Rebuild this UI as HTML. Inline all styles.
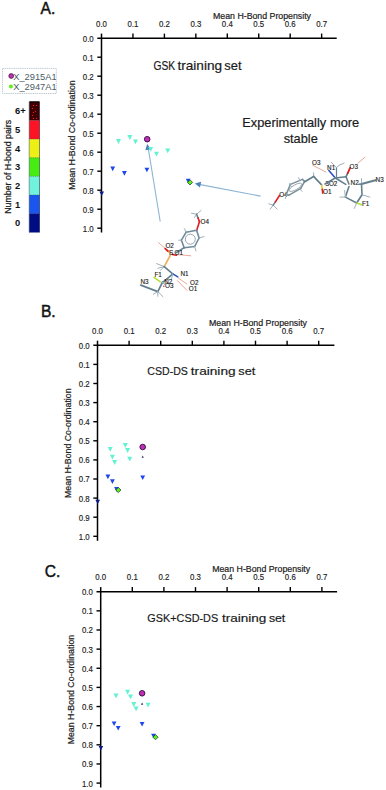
<!DOCTYPE html>
<html><head><meta charset="utf-8"><style>
html,body{margin:0;padding:0;background:#fff;}
svg{display:block;}
text{font-family:"Liberation Sans", sans-serif;}
</style></head><body>
<svg width="386" height="790" viewBox="0 0 386 790">
<rect width="386" height="790" fill="#fff"/>
<line x1="97.3" y1="38.2" x2="336.7" y2="38.2" stroke="#000" stroke-width="1.5"/>
<line x1="101.5" y1="33.6" x2="101.5" y2="232.5" stroke="#000" stroke-width="1.5"/>
<line x1="132.95" y1="33.6" x2="132.95" y2="38.2" stroke="#000" stroke-width="1.4"/>
<line x1="164.40" y1="33.6" x2="164.40" y2="38.2" stroke="#000" stroke-width="1.4"/>
<line x1="195.85" y1="33.6" x2="195.85" y2="38.2" stroke="#000" stroke-width="1.4"/>
<line x1="227.30" y1="33.6" x2="227.30" y2="38.2" stroke="#000" stroke-width="1.4"/>
<line x1="258.75" y1="33.6" x2="258.75" y2="38.2" stroke="#000" stroke-width="1.4"/>
<line x1="290.20" y1="33.6" x2="290.20" y2="38.2" stroke="#000" stroke-width="1.4"/>
<line x1="321.65" y1="33.6" x2="321.65" y2="38.2" stroke="#000" stroke-width="1.4"/>
<line x1="97.3" y1="57.20" x2="101.5" y2="57.20" stroke="#000" stroke-width="1.4"/>
<line x1="97.3" y1="76.20" x2="101.5" y2="76.20" stroke="#000" stroke-width="1.4"/>
<line x1="97.3" y1="95.20" x2="101.5" y2="95.20" stroke="#000" stroke-width="1.4"/>
<line x1="97.3" y1="114.20" x2="101.5" y2="114.20" stroke="#000" stroke-width="1.4"/>
<line x1="97.3" y1="133.20" x2="101.5" y2="133.20" stroke="#000" stroke-width="1.4"/>
<line x1="97.3" y1="152.20" x2="101.5" y2="152.20" stroke="#000" stroke-width="1.4"/>
<line x1="97.3" y1="171.20" x2="101.5" y2="171.20" stroke="#000" stroke-width="1.4"/>
<line x1="97.3" y1="190.20" x2="101.5" y2="190.20" stroke="#000" stroke-width="1.4"/>
<line x1="97.3" y1="209.20" x2="101.5" y2="209.20" stroke="#000" stroke-width="1.4"/>
<line x1="97.3" y1="228.20" x2="101.5" y2="228.20" stroke="#000" stroke-width="1.4"/>
<text x="101.50" y="26.60" text-anchor="middle" font-size="8.2" fill="#1c1c1c" stroke="#1c1c1c" stroke-width="0.15" textLength="10.9" lengthAdjust="spacingAndGlyphs">0.0</text>
<text x="132.95" y="26.60" text-anchor="middle" font-size="8.2" fill="#1c1c1c" stroke="#1c1c1c" stroke-width="0.15" textLength="10.9" lengthAdjust="spacingAndGlyphs">0.1</text>
<text x="164.40" y="26.60" text-anchor="middle" font-size="8.2" fill="#1c1c1c" stroke="#1c1c1c" stroke-width="0.15" textLength="10.9" lengthAdjust="spacingAndGlyphs">0.2</text>
<text x="195.85" y="26.60" text-anchor="middle" font-size="8.2" fill="#1c1c1c" stroke="#1c1c1c" stroke-width="0.15" textLength="10.9" lengthAdjust="spacingAndGlyphs">0.3</text>
<text x="227.30" y="26.60" text-anchor="middle" font-size="8.2" fill="#1c1c1c" stroke="#1c1c1c" stroke-width="0.15" textLength="10.9" lengthAdjust="spacingAndGlyphs">0.4</text>
<text x="258.75" y="26.60" text-anchor="middle" font-size="8.2" fill="#1c1c1c" stroke="#1c1c1c" stroke-width="0.15" textLength="10.9" lengthAdjust="spacingAndGlyphs">0.5</text>
<text x="290.20" y="26.60" text-anchor="middle" font-size="8.2" fill="#1c1c1c" stroke="#1c1c1c" stroke-width="0.15" textLength="10.9" lengthAdjust="spacingAndGlyphs">0.6</text>
<text x="321.65" y="26.60" text-anchor="middle" font-size="8.2" fill="#1c1c1c" stroke="#1c1c1c" stroke-width="0.15" textLength="10.9" lengthAdjust="spacingAndGlyphs">0.7</text>
<text x="82.80" y="41.60" font-size="8.2" fill="#1c1c1c" stroke="#1c1c1c" stroke-width="0.15" textLength="10.9" lengthAdjust="spacingAndGlyphs">0.0</text>
<text x="82.80" y="60.60" font-size="8.2" fill="#1c1c1c" stroke="#1c1c1c" stroke-width="0.15" textLength="10.9" lengthAdjust="spacingAndGlyphs">0.1</text>
<text x="82.80" y="79.60" font-size="8.2" fill="#1c1c1c" stroke="#1c1c1c" stroke-width="0.15" textLength="10.9" lengthAdjust="spacingAndGlyphs">0.2</text>
<text x="82.80" y="98.60" font-size="8.2" fill="#1c1c1c" stroke="#1c1c1c" stroke-width="0.15" textLength="10.9" lengthAdjust="spacingAndGlyphs">0.3</text>
<text x="82.80" y="117.60" font-size="8.2" fill="#1c1c1c" stroke="#1c1c1c" stroke-width="0.15" textLength="10.9" lengthAdjust="spacingAndGlyphs">0.4</text>
<text x="82.80" y="136.60" font-size="8.2" fill="#1c1c1c" stroke="#1c1c1c" stroke-width="0.15" textLength="10.9" lengthAdjust="spacingAndGlyphs">0.5</text>
<text x="82.80" y="155.60" font-size="8.2" fill="#1c1c1c" stroke="#1c1c1c" stroke-width="0.15" textLength="10.9" lengthAdjust="spacingAndGlyphs">0.6</text>
<text x="82.80" y="174.60" font-size="8.2" fill="#1c1c1c" stroke="#1c1c1c" stroke-width="0.15" textLength="10.9" lengthAdjust="spacingAndGlyphs">0.7</text>
<text x="82.80" y="193.60" font-size="8.2" fill="#1c1c1c" stroke="#1c1c1c" stroke-width="0.15" textLength="10.9" lengthAdjust="spacingAndGlyphs">0.8</text>
<text x="82.80" y="212.60" font-size="8.2" fill="#1c1c1c" stroke="#1c1c1c" stroke-width="0.15" textLength="10.9" lengthAdjust="spacingAndGlyphs">0.9</text>
<text x="82.80" y="231.60" font-size="8.2" fill="#1c1c1c" stroke="#1c1c1c" stroke-width="0.15" textLength="10.9" lengthAdjust="spacingAndGlyphs">1.0</text>
<text x="213.00" y="18.90" font-size="8.7" fill="#1c1c1c" stroke="#1c1c1c" stroke-width="0.2" textLength="98" lengthAdjust="spacingAndGlyphs">Mean H-Bond Propensity</text>
<text transform="translate(74.90,135.10) rotate(-90)" text-anchor="middle" font-size="8.8" fill="#1c1c1c" stroke="#1c1c1c" stroke-width="0.2">Mean H-Bond Co-ordination</text>
<text x="40.5" y="13.5" font-size="15.6" fill="#111" stroke="#111" stroke-width="0.45">A.</text>
<line x1="93.3" y1="345.3" x2="334.4" y2="345.3" stroke="#000" stroke-width="1.5"/>
<line x1="97.5" y1="340.7" x2="97.5" y2="540.8" stroke="#000" stroke-width="1.5"/>
<line x1="129.10" y1="340.7" x2="129.10" y2="345.3" stroke="#000" stroke-width="1.4"/>
<line x1="160.70" y1="340.7" x2="160.70" y2="345.3" stroke="#000" stroke-width="1.4"/>
<line x1="192.30" y1="340.7" x2="192.30" y2="345.3" stroke="#000" stroke-width="1.4"/>
<line x1="223.90" y1="340.7" x2="223.90" y2="345.3" stroke="#000" stroke-width="1.4"/>
<line x1="255.50" y1="340.7" x2="255.50" y2="345.3" stroke="#000" stroke-width="1.4"/>
<line x1="287.10" y1="340.7" x2="287.10" y2="345.3" stroke="#000" stroke-width="1.4"/>
<line x1="318.70" y1="340.7" x2="318.70" y2="345.3" stroke="#000" stroke-width="1.4"/>
<line x1="93.3" y1="364.40" x2="97.5" y2="364.40" stroke="#000" stroke-width="1.4"/>
<line x1="93.3" y1="383.50" x2="97.5" y2="383.50" stroke="#000" stroke-width="1.4"/>
<line x1="93.3" y1="402.60" x2="97.5" y2="402.60" stroke="#000" stroke-width="1.4"/>
<line x1="93.3" y1="421.70" x2="97.5" y2="421.70" stroke="#000" stroke-width="1.4"/>
<line x1="93.3" y1="440.80" x2="97.5" y2="440.80" stroke="#000" stroke-width="1.4"/>
<line x1="93.3" y1="459.90" x2="97.5" y2="459.90" stroke="#000" stroke-width="1.4"/>
<line x1="93.3" y1="479.00" x2="97.5" y2="479.00" stroke="#000" stroke-width="1.4"/>
<line x1="93.3" y1="498.10" x2="97.5" y2="498.10" stroke="#000" stroke-width="1.4"/>
<line x1="93.3" y1="517.20" x2="97.5" y2="517.20" stroke="#000" stroke-width="1.4"/>
<line x1="93.3" y1="536.30" x2="97.5" y2="536.30" stroke="#000" stroke-width="1.4"/>
<text x="97.50" y="333.70" text-anchor="middle" font-size="8.2" fill="#1c1c1c" stroke="#1c1c1c" stroke-width="0.15" textLength="10.9" lengthAdjust="spacingAndGlyphs">0.0</text>
<text x="129.10" y="333.70" text-anchor="middle" font-size="8.2" fill="#1c1c1c" stroke="#1c1c1c" stroke-width="0.15" textLength="10.9" lengthAdjust="spacingAndGlyphs">0.1</text>
<text x="160.70" y="333.70" text-anchor="middle" font-size="8.2" fill="#1c1c1c" stroke="#1c1c1c" stroke-width="0.15" textLength="10.9" lengthAdjust="spacingAndGlyphs">0.2</text>
<text x="192.30" y="333.70" text-anchor="middle" font-size="8.2" fill="#1c1c1c" stroke="#1c1c1c" stroke-width="0.15" textLength="10.9" lengthAdjust="spacingAndGlyphs">0.3</text>
<text x="223.90" y="333.70" text-anchor="middle" font-size="8.2" fill="#1c1c1c" stroke="#1c1c1c" stroke-width="0.15" textLength="10.9" lengthAdjust="spacingAndGlyphs">0.4</text>
<text x="255.50" y="333.70" text-anchor="middle" font-size="8.2" fill="#1c1c1c" stroke="#1c1c1c" stroke-width="0.15" textLength="10.9" lengthAdjust="spacingAndGlyphs">0.5</text>
<text x="287.10" y="333.70" text-anchor="middle" font-size="8.2" fill="#1c1c1c" stroke="#1c1c1c" stroke-width="0.15" textLength="10.9" lengthAdjust="spacingAndGlyphs">0.6</text>
<text x="318.70" y="333.70" text-anchor="middle" font-size="8.2" fill="#1c1c1c" stroke="#1c1c1c" stroke-width="0.15" textLength="10.9" lengthAdjust="spacingAndGlyphs">0.7</text>
<text x="78.80" y="348.70" font-size="8.2" fill="#1c1c1c" stroke="#1c1c1c" stroke-width="0.15" textLength="10.9" lengthAdjust="spacingAndGlyphs">0.0</text>
<text x="78.80" y="367.80" font-size="8.2" fill="#1c1c1c" stroke="#1c1c1c" stroke-width="0.15" textLength="10.9" lengthAdjust="spacingAndGlyphs">0.1</text>
<text x="78.80" y="386.90" font-size="8.2" fill="#1c1c1c" stroke="#1c1c1c" stroke-width="0.15" textLength="10.9" lengthAdjust="spacingAndGlyphs">0.2</text>
<text x="78.80" y="406.00" font-size="8.2" fill="#1c1c1c" stroke="#1c1c1c" stroke-width="0.15" textLength="10.9" lengthAdjust="spacingAndGlyphs">0.3</text>
<text x="78.80" y="425.10" font-size="8.2" fill="#1c1c1c" stroke="#1c1c1c" stroke-width="0.15" textLength="10.9" lengthAdjust="spacingAndGlyphs">0.4</text>
<text x="78.80" y="444.20" font-size="8.2" fill="#1c1c1c" stroke="#1c1c1c" stroke-width="0.15" textLength="10.9" lengthAdjust="spacingAndGlyphs">0.5</text>
<text x="78.80" y="463.30" font-size="8.2" fill="#1c1c1c" stroke="#1c1c1c" stroke-width="0.15" textLength="10.9" lengthAdjust="spacingAndGlyphs">0.6</text>
<text x="78.80" y="482.40" font-size="8.2" fill="#1c1c1c" stroke="#1c1c1c" stroke-width="0.15" textLength="10.9" lengthAdjust="spacingAndGlyphs">0.7</text>
<text x="78.80" y="501.50" font-size="8.2" fill="#1c1c1c" stroke="#1c1c1c" stroke-width="0.15" textLength="10.9" lengthAdjust="spacingAndGlyphs">0.8</text>
<text x="78.80" y="520.60" font-size="8.2" fill="#1c1c1c" stroke="#1c1c1c" stroke-width="0.15" textLength="10.9" lengthAdjust="spacingAndGlyphs">0.9</text>
<text x="78.80" y="539.70" font-size="8.2" fill="#1c1c1c" stroke="#1c1c1c" stroke-width="0.15" textLength="10.9" lengthAdjust="spacingAndGlyphs">1.0</text>
<text x="209.00" y="326.00" font-size="8.7" fill="#1c1c1c" stroke="#1c1c1c" stroke-width="0.2" textLength="98" lengthAdjust="spacingAndGlyphs">Mean H-Bond Propensity</text>
<text transform="translate(71.40,443.20) rotate(-90)" text-anchor="middle" font-size="8.8" fill="#1c1c1c" stroke="#1c1c1c" stroke-width="0.2">Mean H-Bond Co-ordination</text>
<text x="40.9" y="316.9" font-size="15.6" fill="#111" stroke="#111" stroke-width="0.45">B.</text>
<line x1="96.5" y1="591.7" x2="337.1" y2="591.7" stroke="#000" stroke-width="1.5"/>
<line x1="100.7" y1="587.1" x2="100.7" y2="787.5" stroke="#000" stroke-width="1.5"/>
<line x1="132.30" y1="587.1" x2="132.30" y2="591.7" stroke="#000" stroke-width="1.4"/>
<line x1="163.90" y1="587.1" x2="163.90" y2="591.7" stroke="#000" stroke-width="1.4"/>
<line x1="195.50" y1="587.1" x2="195.50" y2="591.7" stroke="#000" stroke-width="1.4"/>
<line x1="227.10" y1="587.1" x2="227.10" y2="591.7" stroke="#000" stroke-width="1.4"/>
<line x1="258.70" y1="587.1" x2="258.70" y2="591.7" stroke="#000" stroke-width="1.4"/>
<line x1="290.30" y1="587.1" x2="290.30" y2="591.7" stroke="#000" stroke-width="1.4"/>
<line x1="321.90" y1="587.1" x2="321.90" y2="591.7" stroke="#000" stroke-width="1.4"/>
<line x1="96.5" y1="610.84" x2="100.7" y2="610.84" stroke="#000" stroke-width="1.4"/>
<line x1="96.5" y1="629.98" x2="100.7" y2="629.98" stroke="#000" stroke-width="1.4"/>
<line x1="96.5" y1="649.12" x2="100.7" y2="649.12" stroke="#000" stroke-width="1.4"/>
<line x1="96.5" y1="668.26" x2="100.7" y2="668.26" stroke="#000" stroke-width="1.4"/>
<line x1="96.5" y1="687.40" x2="100.7" y2="687.40" stroke="#000" stroke-width="1.4"/>
<line x1="96.5" y1="706.54" x2="100.7" y2="706.54" stroke="#000" stroke-width="1.4"/>
<line x1="96.5" y1="725.68" x2="100.7" y2="725.68" stroke="#000" stroke-width="1.4"/>
<line x1="96.5" y1="744.82" x2="100.7" y2="744.82" stroke="#000" stroke-width="1.4"/>
<line x1="96.5" y1="763.96" x2="100.7" y2="763.96" stroke="#000" stroke-width="1.4"/>
<line x1="96.5" y1="783.10" x2="100.7" y2="783.10" stroke="#000" stroke-width="1.4"/>
<text x="100.70" y="580.10" text-anchor="middle" font-size="8.2" fill="#1c1c1c" stroke="#1c1c1c" stroke-width="0.15" textLength="10.9" lengthAdjust="spacingAndGlyphs">0.0</text>
<text x="132.30" y="580.10" text-anchor="middle" font-size="8.2" fill="#1c1c1c" stroke="#1c1c1c" stroke-width="0.15" textLength="10.9" lengthAdjust="spacingAndGlyphs">0.1</text>
<text x="163.90" y="580.10" text-anchor="middle" font-size="8.2" fill="#1c1c1c" stroke="#1c1c1c" stroke-width="0.15" textLength="10.9" lengthAdjust="spacingAndGlyphs">0.2</text>
<text x="195.50" y="580.10" text-anchor="middle" font-size="8.2" fill="#1c1c1c" stroke="#1c1c1c" stroke-width="0.15" textLength="10.9" lengthAdjust="spacingAndGlyphs">0.3</text>
<text x="227.10" y="580.10" text-anchor="middle" font-size="8.2" fill="#1c1c1c" stroke="#1c1c1c" stroke-width="0.15" textLength="10.9" lengthAdjust="spacingAndGlyphs">0.4</text>
<text x="258.70" y="580.10" text-anchor="middle" font-size="8.2" fill="#1c1c1c" stroke="#1c1c1c" stroke-width="0.15" textLength="10.9" lengthAdjust="spacingAndGlyphs">0.5</text>
<text x="290.30" y="580.10" text-anchor="middle" font-size="8.2" fill="#1c1c1c" stroke="#1c1c1c" stroke-width="0.15" textLength="10.9" lengthAdjust="spacingAndGlyphs">0.6</text>
<text x="321.90" y="580.10" text-anchor="middle" font-size="8.2" fill="#1c1c1c" stroke="#1c1c1c" stroke-width="0.15" textLength="10.9" lengthAdjust="spacingAndGlyphs">0.7</text>
<text x="82.00" y="595.10" font-size="8.2" fill="#1c1c1c" stroke="#1c1c1c" stroke-width="0.15" textLength="10.9" lengthAdjust="spacingAndGlyphs">0.0</text>
<text x="82.00" y="614.24" font-size="8.2" fill="#1c1c1c" stroke="#1c1c1c" stroke-width="0.15" textLength="10.9" lengthAdjust="spacingAndGlyphs">0.1</text>
<text x="82.00" y="633.38" font-size="8.2" fill="#1c1c1c" stroke="#1c1c1c" stroke-width="0.15" textLength="10.9" lengthAdjust="spacingAndGlyphs">0.2</text>
<text x="82.00" y="652.52" font-size="8.2" fill="#1c1c1c" stroke="#1c1c1c" stroke-width="0.15" textLength="10.9" lengthAdjust="spacingAndGlyphs">0.3</text>
<text x="82.00" y="671.66" font-size="8.2" fill="#1c1c1c" stroke="#1c1c1c" stroke-width="0.15" textLength="10.9" lengthAdjust="spacingAndGlyphs">0.4</text>
<text x="82.00" y="690.80" font-size="8.2" fill="#1c1c1c" stroke="#1c1c1c" stroke-width="0.15" textLength="10.9" lengthAdjust="spacingAndGlyphs">0.5</text>
<text x="82.00" y="709.94" font-size="8.2" fill="#1c1c1c" stroke="#1c1c1c" stroke-width="0.15" textLength="10.9" lengthAdjust="spacingAndGlyphs">0.6</text>
<text x="82.00" y="729.08" font-size="8.2" fill="#1c1c1c" stroke="#1c1c1c" stroke-width="0.15" textLength="10.9" lengthAdjust="spacingAndGlyphs">0.7</text>
<text x="82.00" y="748.22" font-size="8.2" fill="#1c1c1c" stroke="#1c1c1c" stroke-width="0.15" textLength="10.9" lengthAdjust="spacingAndGlyphs">0.8</text>
<text x="82.00" y="767.36" font-size="8.2" fill="#1c1c1c" stroke="#1c1c1c" stroke-width="0.15" textLength="10.9" lengthAdjust="spacingAndGlyphs">0.9</text>
<text x="82.00" y="786.50" font-size="8.2" fill="#1c1c1c" stroke="#1c1c1c" stroke-width="0.15" textLength="10.9" lengthAdjust="spacingAndGlyphs">1.0</text>
<text x="212.20" y="572.40" font-size="8.7" fill="#1c1c1c" stroke="#1c1c1c" stroke-width="0.2" textLength="98" lengthAdjust="spacingAndGlyphs">Mean H-Bond Propensity</text>
<text transform="translate(73.90,689.60) rotate(-90)" text-anchor="middle" font-size="8.8" fill="#1c1c1c" stroke="#1c1c1c" stroke-width="0.2">Mean H-Bond Co-ordination</text>
<text x="44.8" y="576.6" font-size="15.6" fill="#111" stroke="#111" stroke-width="0.45">C.</text>
<rect x="2.5" y="68.4" width="53.8" height="25.1" fill="none" stroke="#c0ccd4" stroke-width="1" stroke-dasharray="1.5 0.7"/>
<svg x="3" y="68.5" width="53" height="25"><text x="10.2" y="11.2" font-size="9.3" fill="#4c5c68">X_2915A1</text><text x="10.2" y="21.1" font-size="9.3" fill="#4c5c68">X_2947A1</text></svg>
<circle cx="11.2" cy="76" r="2.4" fill="#c22cb6" stroke="#3a1030" stroke-width="0.7"/>
<circle cx="10.9" cy="86.5" r="2.0" fill="#5df01c"/>
<rect x="29" y="101.80" width="10.6" height="18.84" fill="#3c0004"/>
<text x="15.0" y="114.42" font-size="9.4" font-weight="bold" fill="#111">6+</text>
<rect x="29" y="120.44" width="10.6" height="18.84" fill="#fc1424"/>
<text x="15.0" y="133.06" font-size="9.4" font-weight="bold" fill="#111">5</text>
<rect x="29" y="139.09" width="10.6" height="18.84" fill="#ecf014"/>
<text x="15.0" y="151.71" font-size="9.4" font-weight="bold" fill="#111">4</text>
<rect x="29" y="157.73" width="10.6" height="18.84" fill="#46ec12"/>
<text x="15.0" y="170.35" font-size="9.4" font-weight="bold" fill="#111">3</text>
<rect x="29" y="176.37" width="10.6" height="18.84" fill="#70f2dc"/>
<text x="15.0" y="188.99" font-size="9.4" font-weight="bold" fill="#111">2</text>
<rect x="29" y="195.01" width="10.6" height="18.84" fill="#1a56ee"/>
<text x="15.0" y="207.64" font-size="9.4" font-weight="bold" fill="#111">1</text>
<rect x="29" y="213.66" width="10.6" height="18.84" fill="#000c84"/>
<text x="15.0" y="226.28" font-size="9.4" font-weight="bold" fill="#111">0</text>
<rect x="32.95" y="104.95" width="1.1" height="1.1" fill="#f01818"/>
<rect x="35.95" y="104.95" width="1.1" height="1.1" fill="#f01818"/>
<rect x="31.849999999999998" y="107.95" width="1.1" height="1.1" fill="#f01818"/>
<rect x="34.95" y="110.85000000000001" width="1.1" height="1.1" fill="#f01818"/>
<rect x="32.95" y="111.95" width="1.1" height="1.1" fill="#f01818"/>
<rect x="31.849999999999998" y="114.95" width="1.1" height="1.1" fill="#f01818"/>
<rect x="32.95" y="117.85000000000001" width="1.1" height="1.1" fill="#f01818"/>
<rect x="35.95" y="117.85000000000001" width="1.1" height="1.1" fill="#f01818"/>
<line x1="29.5" y1="120.44" x2="39.4" y2="120.44" stroke="#404850" stroke-width="0.5" stroke-dasharray="1 0.8"/>
<line x1="29.5" y1="139.09" x2="39.4" y2="139.09" stroke="#404850" stroke-width="0.5" stroke-dasharray="1 0.8"/>
<line x1="29.5" y1="157.73" x2="39.4" y2="157.73" stroke="#404850" stroke-width="0.5" stroke-dasharray="1 0.8"/>
<line x1="29.5" y1="176.37" x2="39.4" y2="176.37" stroke="#404850" stroke-width="0.5" stroke-dasharray="1 0.8"/>
<line x1="29.5" y1="195.01" x2="39.4" y2="195.01" stroke="#404850" stroke-width="0.5" stroke-dasharray="1 0.8"/>
<line x1="29.5" y1="213.66" x2="39.4" y2="213.66" stroke="#404850" stroke-width="0.5" stroke-dasharray="1 0.8"/>
<line x1="29.4" y1="101.8" x2="39.4" y2="101.8" stroke="#000" stroke-width="1"/>
<line x1="29.2" y1="101.8" x2="29.2" y2="232.3" stroke="#6a7c88" stroke-width="0.7"/>
<line x1="39.5" y1="101.8" x2="39.5" y2="232.3" stroke="#101830" stroke-width="0.5"/>
<text transform="translate(10.8,166.8) rotate(-90)" text-anchor="middle" font-size="8.8" fill="#1c1c1c" stroke="#1c1c1c" stroke-width="0.25">Number of H-bond pairs</text>
<text x="153.4" y="69.8" font-size="11.9" fill="#1a1a1a" stroke="#1a1a1a" stroke-width="0.18" textLength="21.7" lengthAdjust="spacingAndGlyphs">GSK</text>
<text x="177.4" y="69.8" font-size="11.9" fill="#1a1a1a" stroke="#1a1a1a" stroke-width="0.18" textLength="44.7" lengthAdjust="spacingAndGlyphs">training</text>
<text x="224.3" y="69.8" font-size="11.9" fill="#1a1a1a" stroke="#1a1a1a" stroke-width="0.18" textLength="17.2" lengthAdjust="spacingAndGlyphs">set</text>
<text x="242.3" y="127.1" font-size="11.9" fill="#1a1a1a" stroke="#1a1a1a" stroke-width="0.18" textLength="83.9" lengthAdjust="spacingAndGlyphs">Experimentally</text>
<text x="330.0" y="127.1" font-size="11.9" fill="#1a1a1a" stroke="#1a1a1a" stroke-width="0.18" textLength="29.2" lengthAdjust="spacingAndGlyphs">more</text>
<text x="283.7" y="143.0" font-size="11.9" fill="#1a1a1a" stroke="#1a1a1a" stroke-width="0.18" textLength="34.1" lengthAdjust="spacingAndGlyphs">stable</text>
<text x="147.3" y="375.0" font-size="11.6" fill="#1a1a1a" stroke="#1a1a1a" stroke-width="0.18" textLength="40.6" lengthAdjust="spacingAndGlyphs">CSD-DS</text>
<text x="190.8" y="375.0" font-size="11.6" fill="#1a1a1a" stroke="#1a1a1a" stroke-width="0.18" textLength="44.8" lengthAdjust="spacingAndGlyphs">training</text>
<text x="238.3" y="375.0" font-size="11.6" fill="#1a1a1a" stroke="#1a1a1a" stroke-width="0.18" textLength="17.0" lengthAdjust="spacingAndGlyphs">set</text>
<text x="147.3" y="621.6" font-size="11.6" fill="#1a1a1a" stroke="#1a1a1a" stroke-width="0.18" textLength="70.9" lengthAdjust="spacingAndGlyphs">GSK+CSD-DS</text>
<text x="221.9" y="621.6" font-size="11.6" fill="#1a1a1a" stroke="#1a1a1a" stroke-width="0.18" textLength="44.4" lengthAdjust="spacingAndGlyphs">training</text>
<text x="268.9" y="621.6" font-size="11.6" fill="#1a1a1a" stroke="#1a1a1a" stroke-width="0.18" textLength="16.4" lengthAdjust="spacingAndGlyphs">set</text>
<line x1="160.2" y1="221.5" x2="148.2" y2="148" stroke="#8cb4d4" stroke-width="1.1"/>
<polygon points="147.2,144.0 145.3,150.3 150.9,149.3" fill="#4a80bc"/>
<line x1="260.5" y1="196.1" x2="199" y2="184.4" stroke="#8cb4d4" stroke-width="1.1"/>
<polygon points="194.9,183.6 201.1,181.8 200.0,187.4" fill="#4a80bc"/>
<line x1="196.6" y1="214.3" x2="201.1" y2="210.4" stroke="#9fb0ba" stroke-width="1.0" stroke-linecap="round" opacity="1"/>
<line x1="196.6" y1="214.3" x2="191.4" y2="213.2" stroke="#9fb0ba" stroke-width="1.0" stroke-linecap="round" opacity="1"/>
<line x1="196.6" y1="214.3" x2="194.5" y2="217.5" stroke="#9fb0ba" stroke-width="1.0" stroke-linecap="round" opacity="1"/>
<line x1="196.6" y1="214.3" x2="198.05" y2="217.95" stroke="#64808e" stroke-width="1.6" stroke-linecap="round" opacity="1"/>
<line x1="198.05" y1="217.95" x2="199.5" y2="221.6" stroke="#e41c1c" stroke-width="1.6" stroke-linecap="round" opacity="1"/>
<line x1="199.5" y1="221.6" x2="196.8" y2="230.0" stroke="#e41c1c" stroke-width="1.6" stroke-linecap="round" opacity="1"/>
<text x="200.6" y="224.3" font-size="6.3" fill="#161616" stroke="#161616" stroke-width="0.12">O4</text>
<line x1="196.6" y1="230.3" x2="199.1" y2="238" stroke="#6f8a9a" stroke-width="1.6" stroke-linecap="round" opacity="1"/>
<line x1="199.1" y1="238" x2="194.6" y2="246.5" stroke="#6f8a9a" stroke-width="1.6" stroke-linecap="round" opacity="1"/>
<line x1="194.6" y1="246.5" x2="184.2" y2="247.7" stroke="#6f8a9a" stroke-width="1.6" stroke-linecap="round" opacity="1"/>
<line x1="184.2" y1="247.7" x2="181.4" y2="240.2" stroke="#6f8a9a" stroke-width="1.6" stroke-linecap="round" opacity="1"/>
<line x1="181.4" y1="240.2" x2="186.2" y2="232.2" stroke="#6f8a9a" stroke-width="1.6" stroke-linecap="round" opacity="1"/>
<line x1="186.2" y1="232.2" x2="196.6" y2="230.3" stroke="#6f8a9a" stroke-width="1.6" stroke-linecap="round" opacity="1"/>
<circle cx="190.3" cy="239.2" r="5.0" fill="none" stroke="#8a9ca6" stroke-width="0.9"/>
<line x1="186.2" y1="232.2" x2="184.3" y2="228.6" stroke="#9fb0ba" stroke-width="1.0" stroke-linecap="round" opacity="1"/>
<line x1="181.4" y1="240.2" x2="178.6" y2="240.2" stroke="#9fb0ba" stroke-width="1.0" stroke-linecap="round" opacity="1"/>
<line x1="199.1" y1="238" x2="204.0" y2="236.6" stroke="#9fb0ba" stroke-width="1.0" stroke-linecap="round" opacity="1"/>
<line x1="194.6" y1="246.5" x2="195.9" y2="250.8" stroke="#9fb0ba" stroke-width="1.0" stroke-linecap="round" opacity="1"/>
<line x1="184.2" y1="247.7" x2="176.5" y2="252.5" stroke="#64808e" stroke-width="1.5" stroke-linecap="round" opacity="1"/>
<line x1="158.4" y1="242.6" x2="165.0" y2="248.2" stroke="#e8a090" stroke-width="0.9" stroke-linecap="round" opacity="1"/>
<line x1="170.4" y1="253.4" x2="167.8" y2="251.0" stroke="#f0b060" stroke-width="1.8" stroke-linecap="round" opacity="1"/>
<line x1="167.8" y1="251.0" x2="165.2" y2="248.6" stroke="#e41c1c" stroke-width="1.8" stroke-linecap="round" opacity="1"/>
<line x1="172.4" y1="254.4" x2="176.5" y2="255.3" stroke="#e41c1c" stroke-width="1.5" stroke-linecap="round" opacity="1"/>
<line x1="177.8" y1="254.6" x2="190.8" y2="255.8" stroke="#e8a090" stroke-width="0.9" stroke-linecap="round" opacity="1"/>
<text x="165.4" y="247.6" font-size="6.3" fill="#161616" stroke="#161616" stroke-width="0.12">O2</text>
<text x="169.0" y="255.2" font-size="6.3" fill="#161616" stroke="#161616" stroke-width="0.12">S</text>
<text x="174.6" y="255.0" font-size="6.3" fill="#161616" stroke="#161616" stroke-width="0.12">O1</text>
<line x1="170.2" y1="255.5" x2="164.2" y2="266.6" stroke="#f0b060" stroke-width="1.7" stroke-linecap="round" opacity="1"/>
<line x1="164.2" y1="266.6" x2="156.6" y2="263.6" stroke="#9fb0ba" stroke-width="1.0" stroke-linecap="round" opacity="1"/>
<line x1="164.2" y1="266.6" x2="157.8" y2="268.3" stroke="#9fb0ba" stroke-width="1.0" stroke-linecap="round" opacity="1"/>
<line x1="164.2" y1="266.6" x2="160.5" y2="270.2" stroke="#9fb0ba" stroke-width="1.0" stroke-linecap="round" opacity="1"/>
<line x1="164.2" y1="266.6" x2="172.7" y2="273.9" stroke="#64808e" stroke-width="1.7" stroke-linecap="round" opacity="1"/>
<line x1="172.7" y1="273.9" x2="177.8" y2="276.9" stroke="#3050c8" stroke-width="1.6" stroke-linecap="round" opacity="1"/>
<text x="180.4" y="276.4" font-size="6.3" fill="#161616" stroke="#161616" stroke-width="0.12">N1</text>
<line x1="178.0" y1="277.8" x2="186.9" y2="284.0" stroke="#e8a090" stroke-width="0.9" stroke-linecap="round" opacity="1"/>
<line x1="177.4" y1="280.6" x2="186.9" y2="290.3" stroke="#e8a090" stroke-width="0.9" stroke-linecap="round" opacity="1"/>
<text x="190.0" y="284.7" font-size="6.3" fill="#161616" stroke="#161616" stroke-width="0.12">O2</text>
<text x="188.8" y="291.2" font-size="6.3" fill="#161616" stroke="#161616" stroke-width="0.12">O1</text>
<line x1="172.7" y1="273.9" x2="166.8" y2="279.2" stroke="#64808e" stroke-width="1.6" stroke-linecap="round" opacity="1"/>
<line x1="172.7" y1="273.9" x2="171.5" y2="279.0" stroke="#9fb0ba" stroke-width="1.0" stroke-linecap="round" opacity="1"/>
<line x1="166.8" y1="279.2" x2="162.4" y2="282.3" stroke="#64808e" stroke-width="1.6" stroke-linecap="round" opacity="1"/>
<line x1="154.0" y1="277.4" x2="160.4" y2="281.8" stroke="#b0e030" stroke-width="1.5" stroke-linecap="round" opacity="1"/>
<text x="154.4" y="276.8" font-size="6.3" fill="#161616" stroke="#161616" stroke-width="0.12">F1</text>
<text x="164.2" y="284.0" font-size="6.3" fill="#161616" stroke="#161616" stroke-width="0.12">N2</text>
<text x="165.0" y="288.2" font-size="6.3" fill="#161616" stroke="#161616" stroke-width="0.12">O3</text>
<circle cx="163.8" cy="286.3" r="0.8" fill="#c03090"/>
<line x1="162.4" y1="282.3" x2="157.8" y2="291.6" stroke="#64808e" stroke-width="1.7" stroke-linecap="round" opacity="1"/>
<line x1="157.8" y1="291.6" x2="140.8" y2="285.2" stroke="#64808e" stroke-width="1.9" stroke-linecap="round" opacity="1"/>
<text x="140.4" y="284.4" font-size="6.3" fill="#161616" stroke="#161616" stroke-width="0.12">N3</text>
<line x1="157.8" y1="291.6" x2="153.3" y2="294.3" stroke="#9fb0ba" stroke-width="1.0" stroke-linecap="round" opacity="1"/>
<line x1="157.8" y1="291.6" x2="157.8" y2="296.3" stroke="#9fb0ba" stroke-width="1.0" stroke-linecap="round" opacity="1"/>
<line x1="157.8" y1="291.6" x2="163.0" y2="296.7" stroke="#9fb0ba" stroke-width="1.0" stroke-linecap="round" opacity="1"/>
<line x1="162.4" y1="282.3" x2="165.0" y2="285.0" stroke="#9fb0ba" stroke-width="1.0" stroke-linecap="round" opacity="1"/>
<line x1="273.2" y1="205.2" x2="268.8" y2="203.8" stroke="#9fb0ba" stroke-width="1.0" stroke-linecap="round" opacity="1"/>
<line x1="273.2" y1="205.2" x2="270.0" y2="209.4" stroke="#9fb0ba" stroke-width="1.0" stroke-linecap="round" opacity="1"/>
<line x1="273.2" y1="205.2" x2="277.3" y2="209.2" stroke="#9fb0ba" stroke-width="1.0" stroke-linecap="round" opacity="1"/>
<line x1="273.2" y1="205.2" x2="275.4" y2="201.9" stroke="#64808e" stroke-width="1.5" stroke-linecap="round" opacity="1"/>
<line x1="275.4" y1="201.9" x2="279.4" y2="195.6" stroke="#e41c1c" stroke-width="1.7" stroke-linecap="round" opacity="1"/>
<text x="279.2" y="196.8" font-size="6.3" fill="#161616" stroke="#161616" stroke-width="0.12">O4</text>
<line x1="286.2" y1="194.4" x2="290.4" y2="184.4" stroke="#7a909c" stroke-width="1.5" stroke-linecap="round" opacity="1"/>
<line x1="290.4" y1="184.4" x2="302.4" y2="179.4" stroke="#7a909c" stroke-width="1.5" stroke-linecap="round" opacity="1"/>
<line x1="302.4" y1="179.4" x2="304.6" y2="181.4" stroke="#7a909c" stroke-width="1.5" stroke-linecap="round" opacity="1"/>
<line x1="304.6" y1="181.4" x2="300.8" y2="188.4" stroke="#7a909c" stroke-width="1.5" stroke-linecap="round" opacity="1"/>
<line x1="300.8" y1="188.4" x2="289.0" y2="195.2" stroke="#7a909c" stroke-width="1.5" stroke-linecap="round" opacity="1"/>
<line x1="289.0" y1="195.2" x2="286.2" y2="194.4" stroke="#7a909c" stroke-width="1.5" stroke-linecap="round" opacity="1"/>
<ellipse cx="295.4" cy="187.3" rx="7.2" ry="2.4" transform="rotate(-30 295.4 187.3)" fill="none" stroke="#8a9ca6" stroke-width="0.8"/>
<line x1="291.4" y1="186.6" x2="289.5" y2="183.5" stroke="#9fb0ba" stroke-width="1.0" stroke-linecap="round" opacity="1"/>
<line x1="299.8" y1="180.6" x2="298.6" y2="177.6" stroke="#9fb0ba" stroke-width="1.0" stroke-linecap="round" opacity="1"/>
<line x1="300.2" y1="189.2" x2="302.0" y2="191.4" stroke="#9fb0ba" stroke-width="1.0" stroke-linecap="round" opacity="1"/>
<line x1="286.8" y1="194.6" x2="285.3" y2="198.6" stroke="#9fb0ba" stroke-width="1.0" stroke-linecap="round" opacity="1"/>
<line x1="304.3" y1="181.9" x2="313.6" y2="176.4" stroke="#64808e" stroke-width="1.8" stroke-linecap="round" opacity="1"/>
<line x1="313.6" y1="176.4" x2="313.6" y2="172.8" stroke="#9fb0ba" stroke-width="1.0" stroke-linecap="round" opacity="1"/>
<line x1="313.6" y1="176.4" x2="321.6" y2="184.8" stroke="#64808e" stroke-width="1.7" stroke-linecap="round" opacity="1"/>
<line x1="321.8" y1="185.6" x2="322.3" y2="189.39999999999998" stroke="#e8d040" stroke-width="1.7" stroke-linecap="round" opacity="1"/>
<line x1="322.3" y1="189.39999999999998" x2="322.8" y2="193.2" stroke="#e41c1c" stroke-width="1.7" stroke-linecap="round" opacity="1"/>
<text x="325.4" y="185.6" font-size="6.3" fill="#161616" stroke="#161616" stroke-width="0.12">3O2</text>
<text x="323.0" y="194.4" font-size="6.3" fill="#161616" stroke="#161616" stroke-width="0.12">O1</text>
<text x="312.0" y="164.8" font-size="6.3" fill="#161616" stroke="#161616" stroke-width="0.12">O3</text>
<line x1="312.6" y1="165.2" x2="326.0" y2="172.1" stroke="#e8a090" stroke-width="0.9" stroke-linecap="round" opacity="1"/>
<text x="327.1" y="170.0" font-size="6.3" fill="#161616" stroke="#161616" stroke-width="0.12">N1</text>
<line x1="328.9" y1="170.4" x2="335.3" y2="178.0" stroke="#3050c8" stroke-width="1.6" stroke-linecap="round" opacity="1"/>
<line x1="335.3" y1="178.0" x2="325.0" y2="184.0" stroke="#64808e" stroke-width="1.6" stroke-linecap="round" opacity="1"/>
<line x1="336.5" y1="167.5" x2="336.5" y2="178.0" stroke="#64808e" stroke-width="1.2" stroke-linecap="round" opacity="1"/>
<line x1="336.5" y1="167.5" x2="331.2" y2="162.2" stroke="#9fb0ba" stroke-width="1.0" stroke-linecap="round" opacity="1"/>
<line x1="336.5" y1="167.5" x2="340.0" y2="164.6" stroke="#9fb0ba" stroke-width="1.0" stroke-linecap="round" opacity="1"/>
<line x1="335.3" y1="178.0" x2="346.0" y2="176.8" stroke="#64808e" stroke-width="1.6" stroke-linecap="round" opacity="1"/>
<line x1="346.0" y1="176.8" x2="347.7" y2="173.2" stroke="#64808e" stroke-width="1.7" stroke-linecap="round" opacity="1"/>
<line x1="347.7" y1="173.2" x2="350.1" y2="167.9" stroke="#e41c1c" stroke-width="1.8" stroke-linecap="round" opacity="1"/>
<text x="349.6" y="168.6" font-size="6.3" fill="#161616" stroke="#161616" stroke-width="0.12">O3</text>
<line x1="357.9" y1="163.1" x2="365.0" y2="157.2" stroke="#e8a090" stroke-width="0.9" stroke-linecap="round" opacity="1"/>
<line x1="335.3" y1="178.0" x2="345.8" y2="184.4" stroke="#64808e" stroke-width="1.6" stroke-linecap="round" opacity="1"/>
<line x1="346.0" y1="176.8" x2="348.9" y2="184.0" stroke="#64808e" stroke-width="1.6" stroke-linecap="round" opacity="1"/>
<text x="350.6" y="185.3" font-size="6.3" fill="#161616" stroke="#161616" stroke-width="0.12">N2</text>
<line x1="358.8" y1="184.2" x2="361.5" y2="184.0" stroke="#64808e" stroke-width="1.6" stroke-linecap="round" opacity="1"/>
<line x1="361.5" y1="184.0" x2="375.4" y2="180.3" stroke="#64808e" stroke-width="2.0" stroke-linecap="round" opacity="1"/>
<text x="375.6" y="181.8" font-size="6.3" fill="#161616" stroke="#161616" stroke-width="0.12">N3</text>
<line x1="361.5" y1="184.0" x2="361.5" y2="178.6" stroke="#9fb0ba" stroke-width="1.0" stroke-linecap="round" opacity="1"/>
<line x1="361.5" y1="184.0" x2="362.0" y2="194.7" stroke="#64808e" stroke-width="1.6" stroke-linecap="round" opacity="1"/>
<line x1="362.0" y1="194.7" x2="356.7" y2="203.0" stroke="#64808e" stroke-width="1.7" stroke-linecap="round" opacity="1"/>
<line x1="356.7" y1="203.0" x2="345.4" y2="197.1" stroke="#64808e" stroke-width="1.6" stroke-linecap="round" opacity="1"/>
<line x1="345.4" y1="197.1" x2="349.0" y2="186.5" stroke="#64808e" stroke-width="1.6" stroke-linecap="round" opacity="1"/>
<line x1="356.7" y1="203.0" x2="361.6" y2="204.8" stroke="#b0e030" stroke-width="1.5" stroke-linecap="round" opacity="1"/>
<text x="362.0" y="205.6" font-size="6.3" fill="#161616" stroke="#161616" stroke-width="0.12">F1</text>
<line x1="362.0" y1="194.7" x2="369.8" y2="197.1" stroke="#9fb0ba" stroke-width="1.0" stroke-linecap="round" opacity="1"/>
<line x1="345.4" y1="197.1" x2="340.0" y2="197.1" stroke="#9fb0ba" stroke-width="1.0" stroke-linecap="round" opacity="1"/>
<line x1="345.4" y1="197.1" x2="344.6" y2="190.5" stroke="#9fb0ba" stroke-width="1.0" stroke-linecap="round" opacity="1"/>
<line x1="356.7" y1="203.0" x2="354.3" y2="208.4" stroke="#9fb0ba" stroke-width="1.0" stroke-linecap="round" opacity="1"/>
<line x1="340.0" y1="164.9" x2="344.2" y2="163.1" stroke="#9fb0ba" stroke-width="1.0" stroke-linecap="round" opacity="1"/>
<polygon points="116.00,139.12 121.00,139.12 118.50,143.88" fill="#62f2d2"/>
<polygon points="127.30,135.12 132.30,135.12 129.80,139.88" fill="#62f2d2"/>
<polygon points="133.00,139.43 138.00,139.43 135.50,144.18" fill="#62f2d2"/>
<polygon points="148.20,146.93 153.20,146.93 150.70,151.68" fill="#62f2d2"/>
<polygon points="154.00,151.72 159.00,151.72 156.50,156.47" fill="#62f2d2"/>
<polygon points="165.20,148.43 170.20,148.43 167.70,153.18" fill="#62f2d2"/>
<polygon points="110.30,166.62 115.10,166.62 112.70,171.18" fill="#1e46ec"/>
<polygon points="122.00,171.12 126.80,171.12 124.40,175.68" fill="#1e46ec"/>
<polygon points="144.50,167.72 149.30,167.72 146.90,172.28" fill="#1e46ec"/>
<polygon points="185.80,178.72 190.60,178.72 188.20,183.28" fill="#1e46ec"/>
<polygon points="99.40,191.62 104.00,191.62 101.70,195.99" fill="#0a1a8a"/>
<circle cx="147.2" cy="139.2" r="2.8" fill="#c22cb6" stroke="#2a1040" stroke-width="0.9"/>
<polygon points="190,179.8 192.6,182.4 190,185.0 187.4,182.4" fill="#5df01c" stroke="#183028" stroke-width="0.7"/>
<polygon points="107.70,447.02 112.70,447.02 110.20,451.77" fill="#62f2d2"/>
<polygon points="122.80,443.02 127.80,443.02 125.30,447.77" fill="#62f2d2"/>
<polygon points="125.10,448.12 130.10,448.12 127.60,452.88" fill="#62f2d2"/>
<polygon points="109.90,454.82 114.90,454.82 112.40,459.57" fill="#62f2d2"/>
<polygon points="112.20,460.12 117.20,460.12 114.70,464.88" fill="#62f2d2"/>
<polygon points="127.20,456.72 132.20,456.72 129.70,461.47" fill="#62f2d2"/>
<polygon points="105.50,474.62 110.30,474.62 107.90,479.18" fill="#1e46ec"/>
<polygon points="110.00,479.32 114.80,479.32 112.40,483.88" fill="#1e46ec"/>
<polygon points="140.30,475.42 145.10,475.42 142.70,479.98" fill="#1e46ec"/>
<polygon points="114.10,487.12 118.90,487.12 116.50,491.68" fill="#1e46ec"/>
<polygon points="95.40,499.81 100.00,499.81 97.70,504.19" fill="#0a1a8a"/>
<polygon points="141.55,457.79 143.85,457.79 142.70,455.61" fill="#283468"/>
<circle cx="142.7" cy="447" r="2.8" fill="#c22cb6" stroke="#2a1040" stroke-width="0.9"/>
<polygon points="118.3,487.4 120.89999999999999,490 118.3,492.6 115.7,490" fill="#5df01c" stroke="#183028" stroke-width="0.7"/>
<polygon points="113.50,693.42 118.50,693.42 116.00,698.17" fill="#62f2d2"/>
<polygon points="125.10,689.82 130.10,689.82 127.60,694.57" fill="#62f2d2"/>
<polygon points="128.00,694.42 133.00,694.42 130.50,699.17" fill="#62f2d2"/>
<polygon points="131.30,702.12 136.30,702.12 133.80,706.88" fill="#62f2d2"/>
<polygon points="133.60,706.42 138.60,706.42 136.10,711.17" fill="#62f2d2"/>
<polygon points="145.60,702.73 150.60,702.73 148.10,707.48" fill="#62f2d2"/>
<polygon points="111.70,721.42 116.50,721.42 114.10,725.98" fill="#1e46ec"/>
<polygon points="115.80,726.02 120.60,726.02 118.20,730.58" fill="#1e46ec"/>
<polygon points="139.70,721.92 144.50,721.92 142.10,726.48" fill="#1e46ec"/>
<polygon points="151.10,733.72 155.90,733.72 153.50,738.28" fill="#1e46ec"/>
<polygon points="98.60,746.12 103.20,746.12 100.90,750.48" fill="#0a1a8a"/>
<polygon points="140.95,704.69 143.25,704.69 142.10,702.51" fill="#283468"/>
<circle cx="142.1" cy="693.3" r="2.8" fill="#c22cb6" stroke="#2a1040" stroke-width="0.9"/>
<polygon points="155.5,734.6 158.1,737.2 155.5,739.8000000000001 152.9,737.2" fill="#5df01c" stroke="#183028" stroke-width="0.7"/>
</svg>
</body></html>
